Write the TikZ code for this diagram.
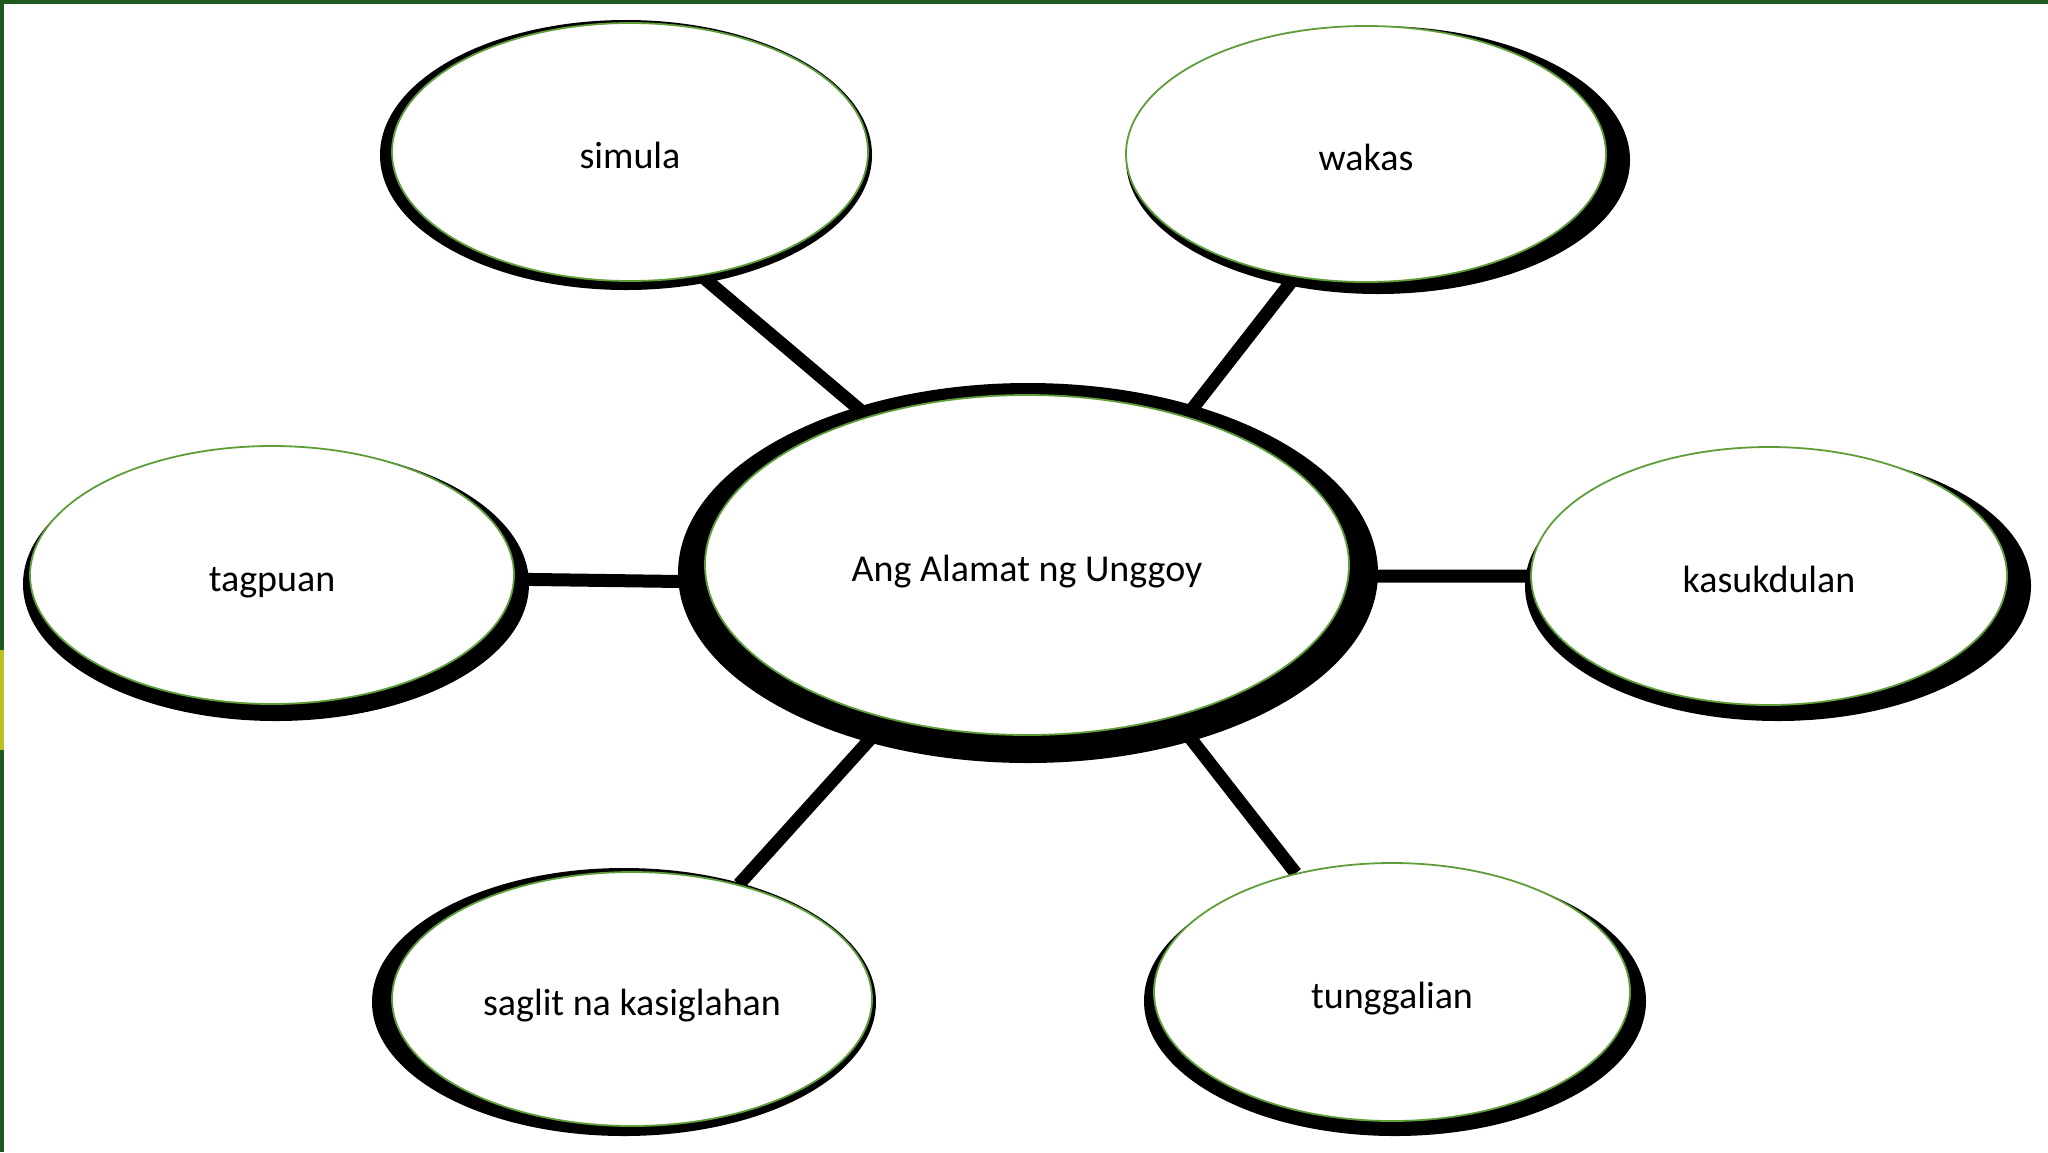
\documentclass[tikz,border=0pt]{standalone}
\usepackage{fontspec}
\setmainfont{Carlito}
\usetikzlibrary{shapes.geometric,calc}
\pgfdeclarelayer{back}
\pgfdeclarelayer{bg}
\pgfsetlayers{back,bg,main}
\definecolor{rimgreen}{HTML}{5E9E3A}
\definecolor{framegreen}{HTML}{1E5A1E}
\definecolor{frameyellow}{HTML}{B8C21E}
\begin{document}
\begin{tikzpicture}[x=0.5pt,y=-0.5pt,
  bubble/.style={ellipse, draw=rimgreen, line width=0.9pt, fill=white, inner sep=0pt,
    minimum width=238pt, minimum height=129pt, font=\fontsize{19}{23}\selectfont, text=black,
    text height=18pt, text depth=2pt},
  hub/.style={bubble, minimum width=322pt, minimum height=170pt},
  link/.style={draw=black, line width=6.5pt},
  rim/.style={fill=black}]
\useasboundingbox (0,0) rectangle (2048,1152);
\begin{pgfonlayer}{back}
\fill[white] (0,0) rectangle (2048,1152);
\fill[framegreen] (0,0) rectangle (2048,4);
\fill[framegreen] (0,0) rectangle (4,1152);
\fill[frameyellow] (0,650) rectangle (4,750);
\end{pgfonlayer}

\node[hub] (c) at (1027,565) {Ang Alamat ng Unggoy};
\node[bubble] (simula) at (630,152) {simula};
\node[bubble, minimum width=240pt, minimum height=128pt] (wakas) at (1366,154) {wakas};
\node[bubble, minimum width=242pt] (tagpuan) at (272,575) {tagpuan};
\node[bubble] (kasukdulan) at (1769,576) {kasukdulan};
\node[bubble, minimum width=240pt, minimum height=127pt] (saglit) at (632,999) {saglit na kasiglahan};
\node[bubble] (tunggalian) at (1392,992) {tunggalian};

\begin{pgfonlayer}{bg}
  \draw[link] (simula.-60) -- (c.137);
  \draw[link] (wakas.-120) -- (c.43);
  \draw[link] (tagpuan.-1) -- (c.183);
  \draw[link] (kasukdulan.180) -- (c.-2);
  \draw[link] (saglit.47) -- (c.-132);
  \draw[link] (tunggalian.129) -- (c.-46);

  \fill[rim] ([shift={(1,8)}]c.center) ellipse [x radius=350, y radius=190];
  \fill[rim] ([shift={(-4,3)}]simula.center) ellipse [x radius=246, y radius=135];
  \fill[rim] ([shift={(12,6)}]wakas.center) ellipse [x radius=252, y radius=134];
  \fill[rim] ([shift={(4,9)}]tagpuan.center) ellipse [x radius=253, y radius=137];
  \fill[rim] ([shift={(9,10)}]kasukdulan.center) ellipse [x radius=253, y radius=135];
  \fill[rim] ([shift={(-8,3)}]saglit.center) ellipse [x radius=252, y radius=134];
  \fill[rim] ([shift={(3,9)}]tunggalian.center) ellipse [x radius=251, y radius=135];
\end{pgfonlayer}
\end{tikzpicture}
\end{document}
